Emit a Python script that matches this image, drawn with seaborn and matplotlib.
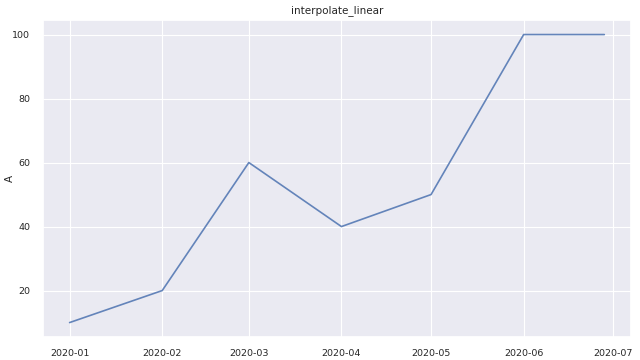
import pandas as pd
import seaborn as sns
import matplotlib
matplotlib.use("Agg")
import matplotlib.pyplot as plt

dates = ["2020-01-01", "2020-02-01", "2020-03-01", "2020-04-01",
         "2020-05-01", "2020-06-01", "2020-06-28"]
values_a = [10, 20, 60, 40, 50, 100, 100]

df = pd.DataFrame({"date": pd.to_datetime(dates), "A": values_a})

sns.set_theme(style="darkgrid", font_scale=0.62, rc={"grid.linewidth": 0.8})

fig, ax = plt.subplots(figsize=(6.4, 3.6), dpi=100)
sns.lineplot(data=df, x="date", y="A", ax=ax, color="#4c72b0", alpha=0.85, linewidth=1.2)
ax.set_title("interpolate_linear", pad=5)
ax.set_xlabel("")
ax.set_ylabel("A")
ax.yaxis.set_label_coords(-0.047, 0.5)
ax.tick_params(pad=3)
fig.subplots_adjust(left=0.067, right=0.986, top=0.944, bottom=0.064)
plt.savefig("out.png")
